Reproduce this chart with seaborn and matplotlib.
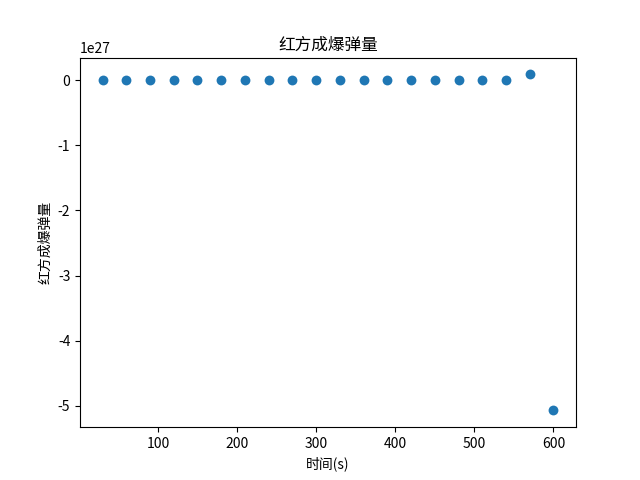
import numpy as np
import pandas as pd
import matplotlib
matplotlib.use('Agg')
import matplotlib.pyplot as plt
import seaborn as sns

plt.rcParams['font.family'] = ['Noto Sans CJK SC', 'DejaVu Sans']
plt.rcParams['axes.unicode_minus'] = False

# 时间 (s) 和 红方成爆弹量
times = [30, 60, 90, 120, 150, 180, 210, 240, 270, 300,
         330, 360, 390, 420, 450, 480, 510, 540, 570, 600]
amounts = [0, 0, 0, 0, 0, 0, 0, 0, 0, 0,
           0, 0, 0, 0, 0, 0, 0, 0, 0.09e27, -5.07e27]

data = pd.DataFrame({'time': times, 'amount': amounts})

fig, ax = plt.subplots(figsize=(6.4, 4.8), dpi=100)
sns.scatterplot(x='time', y='amount', data=data, ax=ax,
                color='#1f77b4', s=50, linewidth=0)
ax.set_title('红方成爆弹量')
ax.set_xlabel('时间(s)')
ax.set_ylabel('红方成爆弹量')
plt.savefig('out.png')
